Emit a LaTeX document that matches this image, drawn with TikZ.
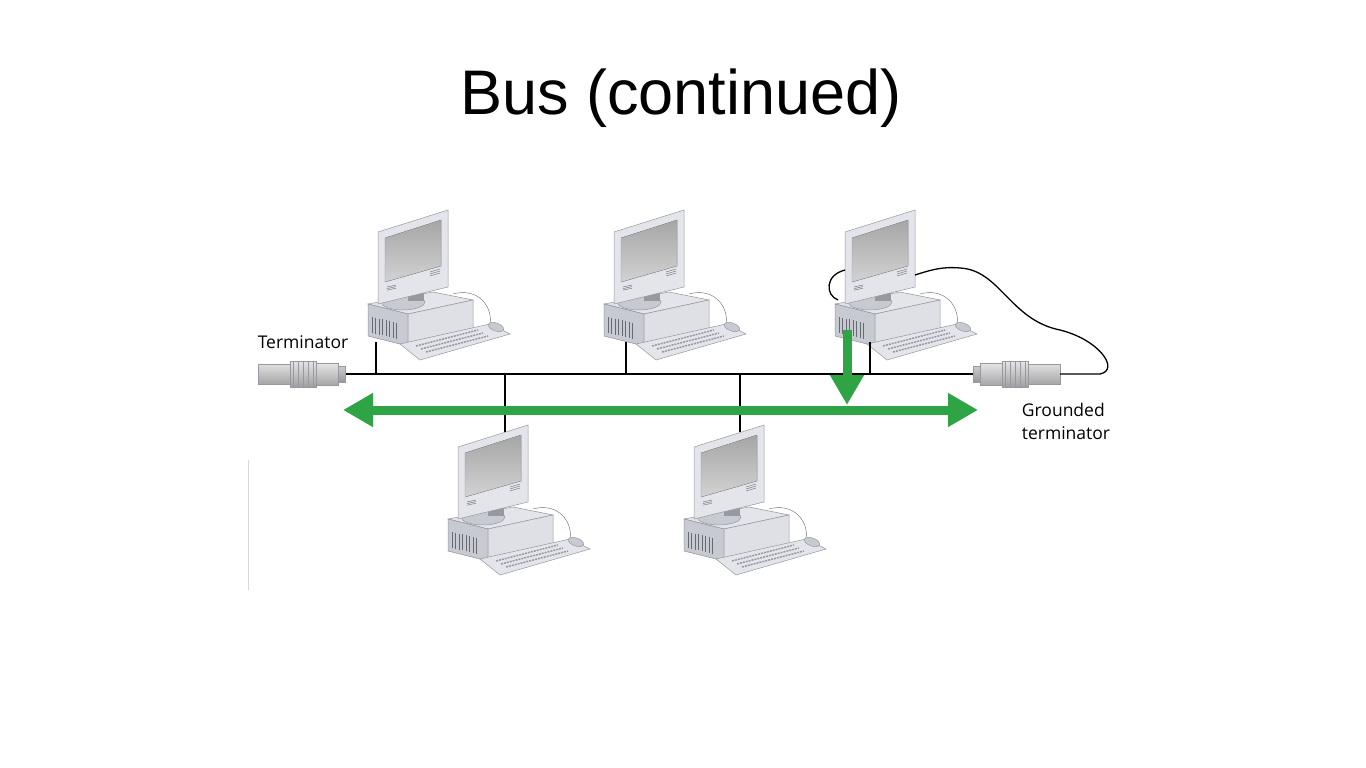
\documentclass[tikz,border=0pt]{standalone}
\usepackage{fontspec}
\setmainfont{Liberation Sans}
\newfontfamily\lab{Open Sans}
\usetikzlibrary{arrows.meta}
\definecolor{grn}{RGB}{46,164,68}
\definecolor{cgray}{RGB}{200,202,210}
\definecolor{dgray}{RGB}{150,152,162}
\definecolor{lgray}{RGB}{228,229,234}
\tikzset{
 part/.style={draw=dgray,line width=0.5pt},
 wire/.style={draw=black,line width=1.3pt},
 grnarrow/.style={draw=grn,line width=9pt,-{Triangle[length=30pt,width=32pt]}},
 comp/.pic={
  % case
  \filldraw[part,fill=lgray] (-10,72)--(55,60)--(95,68)--(30,82)--cycle;
  \filldraw[part,fill=cgray] (-10,72)--(30,82)--(30,114)--(-10,104)--cycle;
  \filldraw[part,fill=lgray!80!cgray] (30,82)--(95,68)--(95,98)--(30,114)--cycle;
  \foreach \i in {0,...,7}{\draw[dgray!70!black,line width=0.8pt] (-6+3.5*\i,85+0.8*\i)--(-6+3.5*\i,101+0.8*\i);}
  % stand
  \filldraw[part,fill=cgray] (25,70) ellipse (22 and 8);
  \filldraw[part,fill=dgray] (30,58) rectangle (45,68);
  % monitor
  \filldraw[part,fill=lgray] (0,0)--(70,-22)--(70,55)--(0,72)--cycle;
  \filldraw[draw=dgray,shading=axis,top color=gray!70,bottom color=gray!35] (7,6)--(63,-12)--(63,34)--(7,50)--cycle;
  \foreach \i in {0,1,2}{\draw[dgray!70!black] (9,55-0.4*\i+2*\i)--(18,53-0.4*\i+2*\i); \draw[dgray!70!black] (52,40+2*\i)--(62,37+2*\i);}
  % keyboard
  \filldraw[part,fill=lgray] (22,112)--(112,92)--(132,102)--(42,128)--cycle;
  \foreach \j in {0,1,2}{\draw[dgray,line width=1.5pt,dash pattern=on 2pt off 1pt] (38+5*\j,114+3*\j)--(100+5*\j,98+3*\j);}
  % mouse
  \draw[dgray!70!black] (75,62) .. controls (100,55) and (115,75) .. (112,92);
  \filldraw[part,fill=cgray,rotate around={-20:(118,95)}] (118,95) ellipse (8 and 4);
 }
}
\begin{document}
\begin{tikzpicture}[x=1pt,y=-1pt]
\useasboundingbox (0,0) rectangle (1366,768);
\fill[white] (0,0) rectangle (1366,768);
\node[font=\fontsize{63}{72}\selectfont] (title) at (681,98) {Bus (continued)};
\draw[gray!30,line width=0.8pt] (248,460)--(248,590);
% computers
\pic at (378,232) {comp};
\pic at (614,232) {comp};
\pic at (845,232) {comp};
\pic at (458,447) {comp};
\pic at (694,447) {comp};
% bus and drops
\coordinate (bl) at (345,374);
\coordinate (br) at (975,374);
\draw[wire] (bl)--(br);
\foreach \x in {376,626,870}{\draw[wire] (\x,342)--(\x,374);}
\foreach \x in {505,740}{\draw[wire] (\x,374)--(\x,432);}
% terminators
\foreach \s/\o in {1/258,-1/1060}{
 \begin{scope}[shift={(\o,374)},xscale=\s]
  \shade[top color=gray!25,bottom color=gray!70,draw=dgray] (0,-10) rectangle (32,10);
  \shade[top color=gray!20,bottom color=gray!75,draw=dgray] (32,-13) rectangle (58,13);
  \foreach \k in {35,40,45,50,55}{\draw[dgray] (\k,-13)--(\k,13);}
  \shade[top color=gray!20,bottom color=gray!70,draw=dgray] (58,-11) rectangle (80,11);
  \shade[top color=gray!40,bottom color=gray!80,draw=dgray] (80,-8) rectangle (87,8);
 \end{scope}}
\coordinate (tl) at (258,374);
\coordinate (tr) at (1060,374);
% ground cable
\draw[line width=1.3pt] (tr)--(1100,374) .. controls (1120,370) and (1100,340) .. (1060,330)
  .. controls (1010,320) and (1000,270) .. (960,268) .. controls (940,266) and (925,272) .. (915,275);
\draw[line width=1.3pt] (845,270) .. controls (825,275) and (825,295) .. (838,300);
% green arrows
\coordinate (ga) at (343,410);
\coordinate (gb) at (978,410);
\draw[draw=grn,line width=9pt,{Triangle[length=30pt,width=32pt]}-{Triangle[length=30pt,width=32pt]}] (ga)--(gb);
\coordinate (va) at (847,330);
\coordinate (vb) at (847,405);
\draw[grnarrow] (va)--(vb);
% labels
\node[font=\lab\fontsize{17.5}{21}\selectfont] (tlab) at (303,342) {Terminator};
\node[font=\lab\fontsize{17.5}{23}\selectfont,align=left] (glab) at (1066,421) {Grounded\\terminator};
\end{tikzpicture}
\end{document}
